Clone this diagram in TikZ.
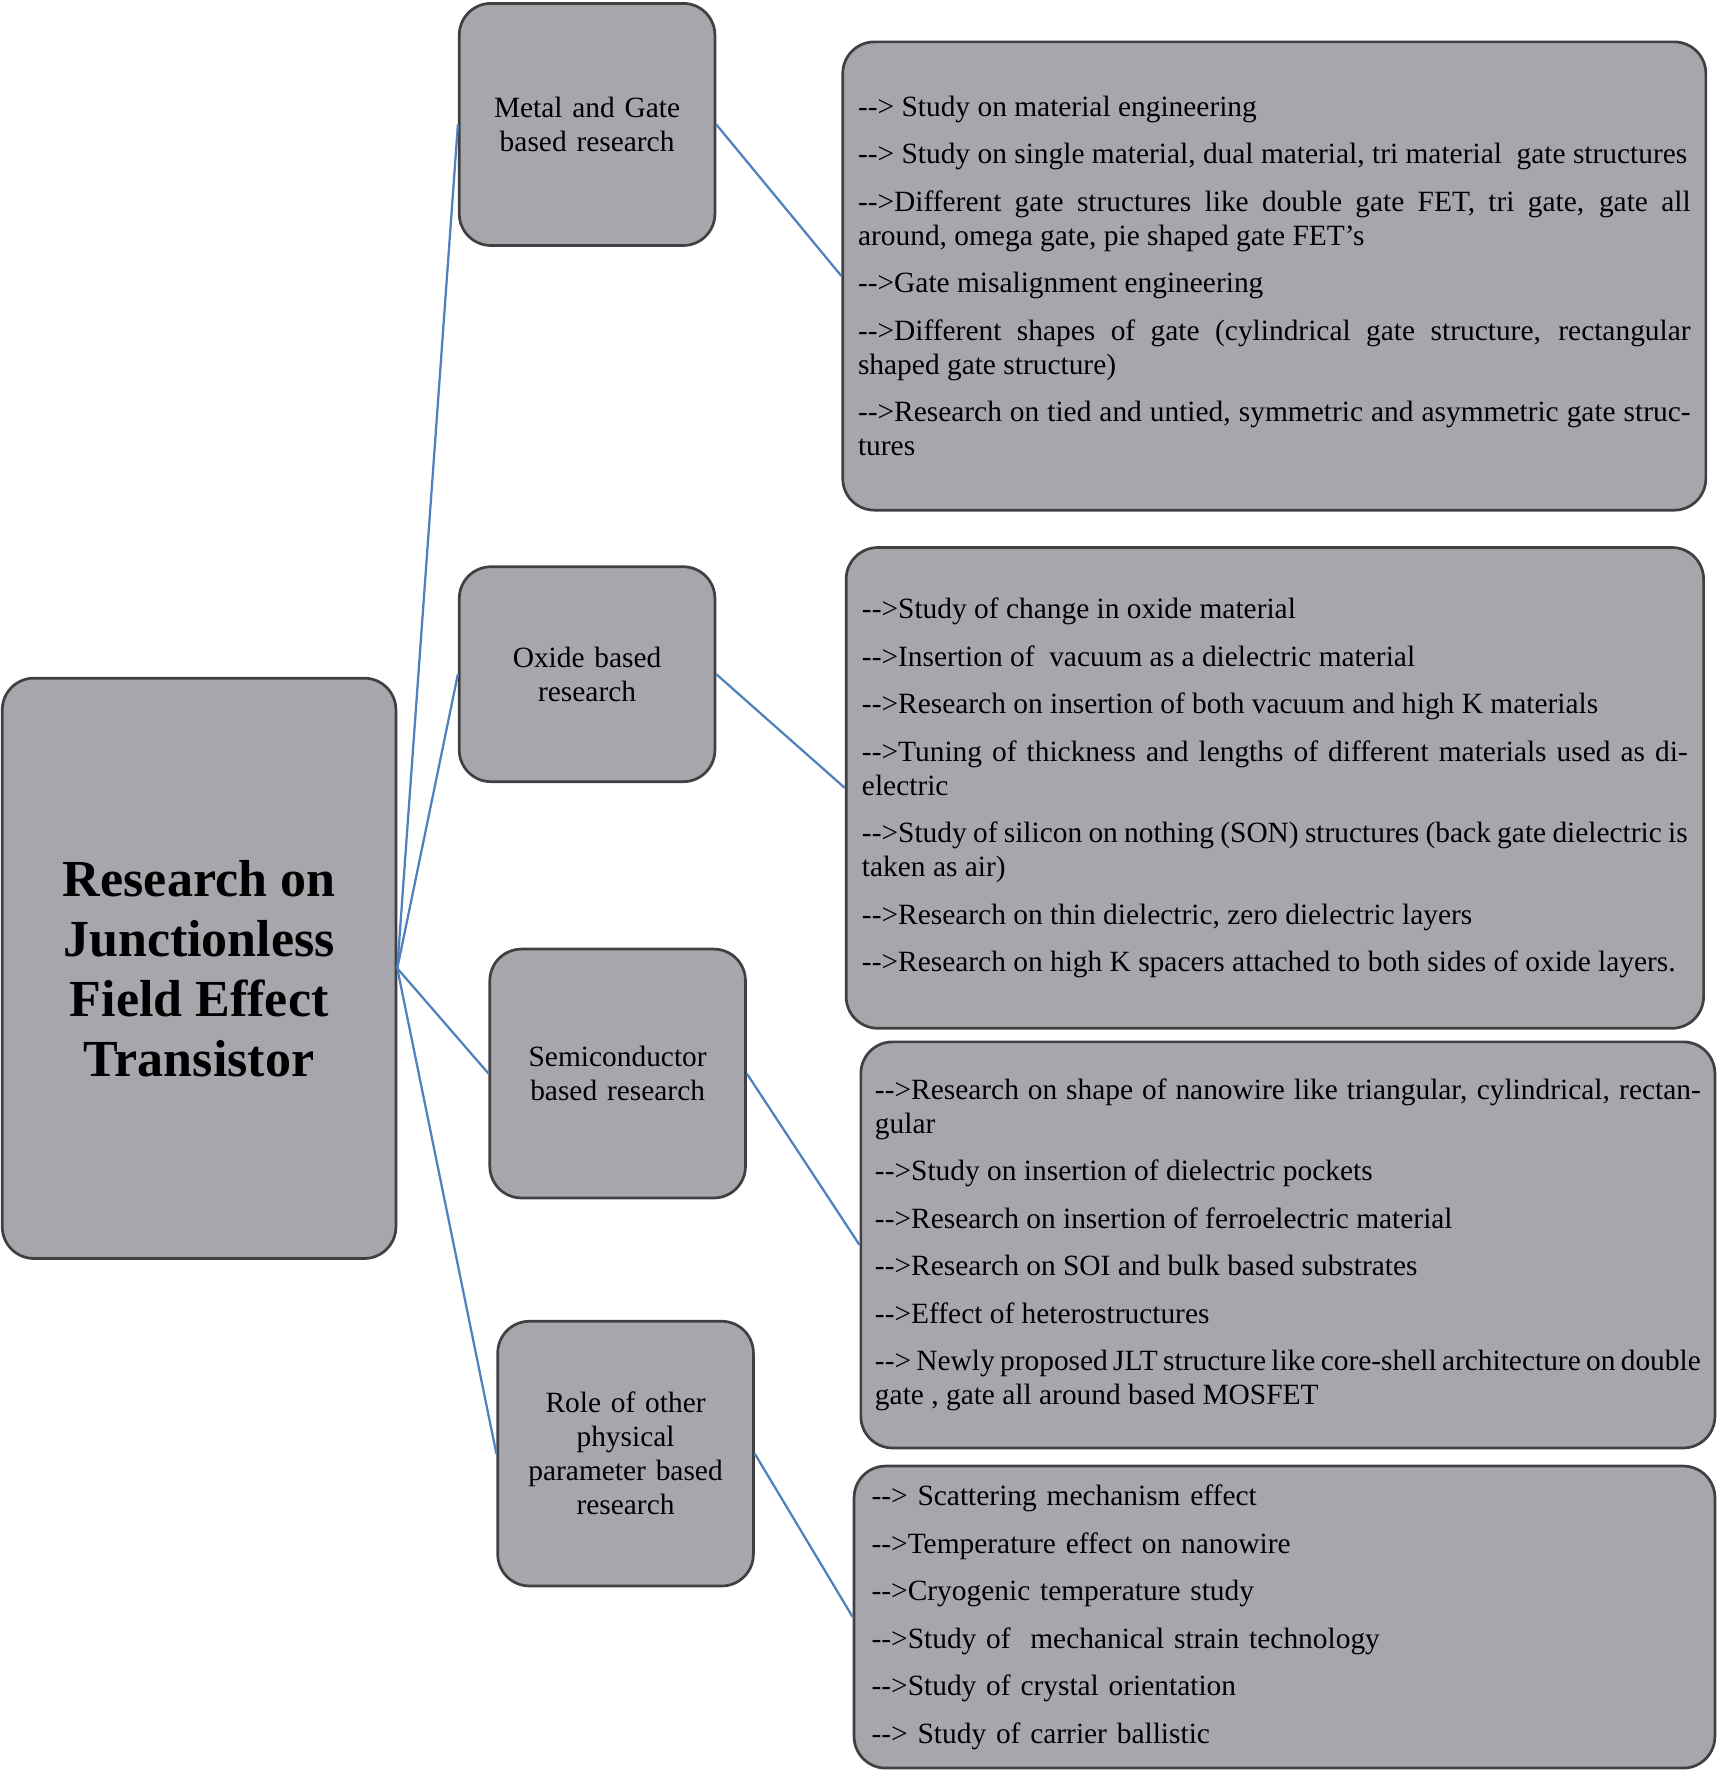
\documentclass[tikz,border=0pt]{standalone}
\usepackage{fontspec}
\setmainfont{Liberation Serif}
\newcommand\myarr{-{}->}
\begin{document}
\begin{tikzpicture}[x=0.5pt,y=-0.5pt,
  box/.style={draw=black!50!gray,line width=1.2pt,fill={rgb,255:red,167;green,166;blue,172},rounded corners=14pt,inner sep=0pt,font=\fontsize{13}{15}\selectfont},
  det/.style={box,align=justify},
  mid/.style={box,align=center,minimum width=113pt,text width=100pt},
  con/.style={draw={rgb,255:red,79;green,129;blue,189},line width=1pt}]
\useasboundingbox (0,0) rectangle (1520,1570);
\node[box,minimum width=174pt,minimum height=256.5pt,align=center,font=\fontsize{23}{26.5}\selectfont\bfseries] (main) at (176,856) {Research on\\Junctionless\\Field Effect\\Transistor};
\node[mid,minimum height=107pt] (m1) at (519,110) {Metal and Gate\\based research};
\node[mid,minimum height=95pt] (m2) at (519,596) {Oxide based\\research};
\node[mid,minimum height=110pt] (m3) at (546,949) {Semiconductor\\based research};
\node[mid,minimum height=117pt] (m4) at (553,1285) {Role of other\\physical\\parameter based\\research};
\node[det,minimum width=381.5pt,minimum height=207pt,text width=368pt] (d1) at (1126.5,244) {%
\myarr{} Study on material engineering\par\vspace{6pt}
\myarr{} Study on single material, dual material, tri material\ \ gate structures\par\vspace{6pt}
\myarr Different gate structures like double gate FET, tri gate, gate all around, omega gate, pie shaped gate FET's\par\vspace{6pt}
\myarr Gate misalignment engineering\par\vspace{6pt}
\myarr Different shapes of gate (cylindrical gate structure, rectangular shaped gate structure)\par\vspace{6pt}
\myarr Research on tied and untied, symmetric and asymmetric gate structures};
\node[det,minimum width=379pt,minimum height=212.5pt,text width=365pt] (d2) at (1127,696.5) {%
\myarr Study of change in oxide material\par\vspace{6pt}
\myarr Insertion of\ \ vacuum as a dielectric material\par\vspace{6pt}
\myarr Research on insertion of both vacuum and high K materials\par\vspace{6pt}
\myarr Tuning of thickness and lengths of different materials used as dielectric\par\vspace{6pt}
\myarr Study of silicon on nothing (SON) structures (back gate dielectric is taken as air)\par\vspace{6pt}
\myarr Research on thin dielectric, zero dielectric layers\par\vspace{6pt}
\myarr Research on high K spacers attached to both sides of oxide layers.};
\node[det,minimum width=377.5pt,minimum height=179.5pt,text width=365pt] (d3) at (1138.5,1100.5) {%
\myarr Research on shape of nanowire like triangular, cylindrical, rectangular\par\vspace{6pt}
\myarr Study on insertion of dielectric pockets\par\vspace{6pt}
\myarr Research on insertion of ferroelectric material\par\vspace{6pt}
\myarr Research on SOI and bulk based substrates\par\vspace{6pt}
\myarr Effect of heterostructures\par\vspace{6pt}
\myarr{} Newly proposed JLT structure like core-shell architecture on double gate , gate all around based MOSFET};
\node[box,align=left,minimum width=380.5pt,minimum height=133.5pt,text width=365pt] (d4) at (1135.5,1429.5) {%
\myarr{} Scattering mechanism effect\par\vspace{6pt}
\myarr Temperature effect on nanowire\par\vspace{6pt}
\myarr Cryogenic temperature study\par\vspace{6pt}
\myarr Study of\ \ mechanical strain technology\par\vspace{6pt}
\myarr Study of crystal orientation\par\vspace{6pt}
\myarr{} Study of carrier ballistic};
\foreach \m in {m1,m2,m3,m4} \draw[con] (main.east) -- (\m.west);
\draw[con] (m1.east) -- (d1.west);
\draw[con] (m2.east) -- (d2.west);
\draw[con] (m3.east) -- (d3.west);
\draw[con] (m4.east) -- (d4.west);
\end{tikzpicture}
\end{document}
